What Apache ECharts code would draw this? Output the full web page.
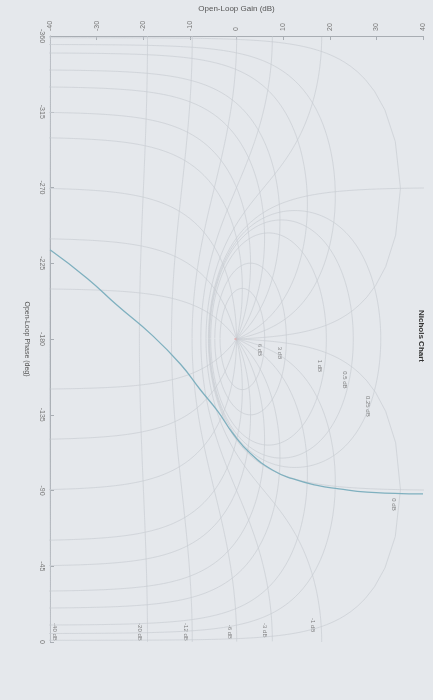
<!DOCTYPE html>
<html lang="en">
<head>
<meta charset="UTF-8">
<title>Nichols Chart</title>
<script src="https://cdn.jsdelivr.net/npm/echarts@6/dist/echarts.min.js"></script>
<style>
  html, body { margin: 0; padding: 0; background: #e5e8ec; }
</style>
</head>
<body>
<div id="main" style="width: 433px;height:700px;"></div>
<script type="text/javascript">
    // open-loop response: [gain dB, phase deg]
    var loopGain = [-40, -32, -25.6, -18, -12, -7.8, -4, -0.8, 3, 7.8, 12, 17.3, 22, 28, 34, 38.7, 40];
    var loopPhase = [-233, -216, -200, -182, -165, -150, -137, -124, -112, -102, -97, -93, -91, -89, -88.3, -88, -88];

    // grid contours (closed-loop magnitude dB, closed-loop phase deg)
    var mContours = [6, 3, 1, 0.5, 0.25, 0, -1, -3, -6, -12, -20, -40];
    var phContours = [-1, -5, -10, -20, -30, -45, -60, -90, -120, -150, 1, 5, 10, 20, 30, 45, 60, 90, 120, 150];

    // contour labels
    var labelText = ['6 dB', '3 dB', '1 dB', '0.5 dB', '0.25 dB', '0 dB', '-1 dB', '-3 dB', '-6 dB', '-12 dB', '-20 dB', '-40 dB'];
    var labelGain = [5, 9.3, 17.9, 23.3, 28.2, 33.6, 16.4, 6.1, -1.4, -11, -20.7, -39];
    var labelPhase = [-173.5, -171.7, -164, -155.7, -140, -81.7, -10, -7, -6, -6, -6, -6];

    var gainTicks = [-40, -30, -20, -10, 0, 10, 20, 30, 40];
    var phaseTicks = [-360, -315, -270, -225, -180, -135, -90, -45, 0];

    // G = T/(1-T) -> [gain dB, phase in (-360,0]]
    function openLoop(re, im) {
        var dr = 1 - re, di = -im;
        var d = dr * dr + di * di;
        var gr = (re * dr + im * di) / d, gi = (im * dr - re * di) / d;
        var mag = Math.sqrt(gr * gr + gi * gi);
        var ph = Math.atan2(gi, gr) * 180 / Math.PI;
        if (ph > 0) ph -= 360;
        return [20 * Math.log10(mag), ph];
    }
    function pushPath(out, pts) {
        var prev = null;
        pts.forEach(function (p) {
            var bad = !isFinite(p[0]) || p[0] > 70 || p[0] < -70;
            if (bad || (prev && Math.abs(p[1] - prev[1]) > 180)) {
                out.push(null);
                prev = null;
                if (bad) return;
            }
            out.push(p);
            prev = p;
        });
        out.push(null);
    }
    var gridPts = [];
    mContours.forEach(function (db) {
        var m = Math.pow(10, db / 20), pts = [];
        var n = 6000;
        for (var i = 0; i <= n; i++) {
            var th = -Math.PI + i * 2 * Math.PI / n;
            pts.push(openLoop(m * Math.cos(th), m * Math.sin(th)));
        }
        pushPath(gridPts, pts);
    });
    phContours.forEach(function (deg) {
        var th = deg * Math.PI / 180, pts = [];
        for (var i = 0; i <= 1500; i++) {
            var r = Math.pow(10, -3 + i * 6 / 1500);
            pts.push(openLoop(r * Math.cos(th), r * Math.sin(th)));
        }
        pushPath(gridPts, pts);
    });
    var gridData = gridPts.map(function (p) { return p ? [p[0], p[1]] : '-'; });

    var loopData = loopGain.map(function (g, i) { return [g, loopPhase[i]]; });
    var labelData = labelText.map(function (t, i) { return { value: [labelGain[i], labelPhase[i]], name: t }; });

    var myChart = echarts.init(document.getElementById('main'));
    var option = {
        backgroundColor: '#e5e8ec',
        animation: false,
        textStyle: { fontFamily: 'Liberation Sans, Arial, sans-serif' },
        graphic: [{
            type: 'text', left: 417, top: 310, rotation: -Math.PI / 2,
            style: { text: 'Nichols Chart', fill: '#333', font: 'bold 8px Liberation Sans, Arial, sans-serif' }
        }],
        grid: { left: 50, right: 10, top: 32, bottom: 58 },
        xAxis: {
            type: 'value', position: 'top', min: -40, max: 40, interval: 10,
            name: 'Open-Loop Gain (dB)', nameLocation: 'middle', nameGap: 22,
            nameTextStyle: { fontSize: 8, color: '#555' },
            axisLine: { onZero: false, lineStyle: { color: '#a8adb3' } },
            axisTick: { inside: true, length: 4, lineStyle: { color: '#a8adb3' } },
            axisLabel: { rotate: -90, fontSize: 7, color: '#777', margin: 5,
                formatter: function (v) { return gainTicks.indexOf(v) >= 0 ? String(v) : ''; } },
            splitLine: { show: false }
        },
        yAxis: {
            type: 'value', inverse: true, min: -360, max: 0, interval: 45,
            name: 'Open-Loop Phase (deg)', nameLocation: 'middle', nameGap: 18, nameRotate: -90,
            nameTextStyle: { fontSize: 7, color: '#555' },
            axisLine: { onZero: false, lineStyle: { color: '#a8adb3' } },
            axisTick: { inside: true, length: 4, lineStyle: { color: '#a8adb3' } },
            axisLabel: { rotate: -90, fontSize: 7, color: '#777', margin: 5,
                formatter: function (v) { return phaseTicks.indexOf(v) >= 0 ? String(v) : ''; } },
            splitLine: { show: false }
        },
        series: [
            {
                type: 'line', data: gridData, showSymbol: false, connectNulls: false, silent: true,
                lineStyle: { color: '#c8cdd2', width: 0.7 }
            },
            {
                type: 'line', data: loopData, showSymbol: false, smooth: true,
                lineStyle: { color: '#7fb0bf', width: 1.3 }
            },
            {
                type: 'scatter', data: labelData, symbolSize: 0,
                label: { show: true, formatter: '{b}', rotate: -90, fontSize: 6, color: '#666' }
            },
            {
                type: 'scatter', data: [[0, -180]], symbol: 'path://M0,5H10M5,0V10', symbolSize: 4,
                itemStyle: { color: 'none', borderColor: '#e06060', borderWidth: 1 }
            }
        ]
    };
    myChart.setOption(option);
</script>
</body>
</html>
